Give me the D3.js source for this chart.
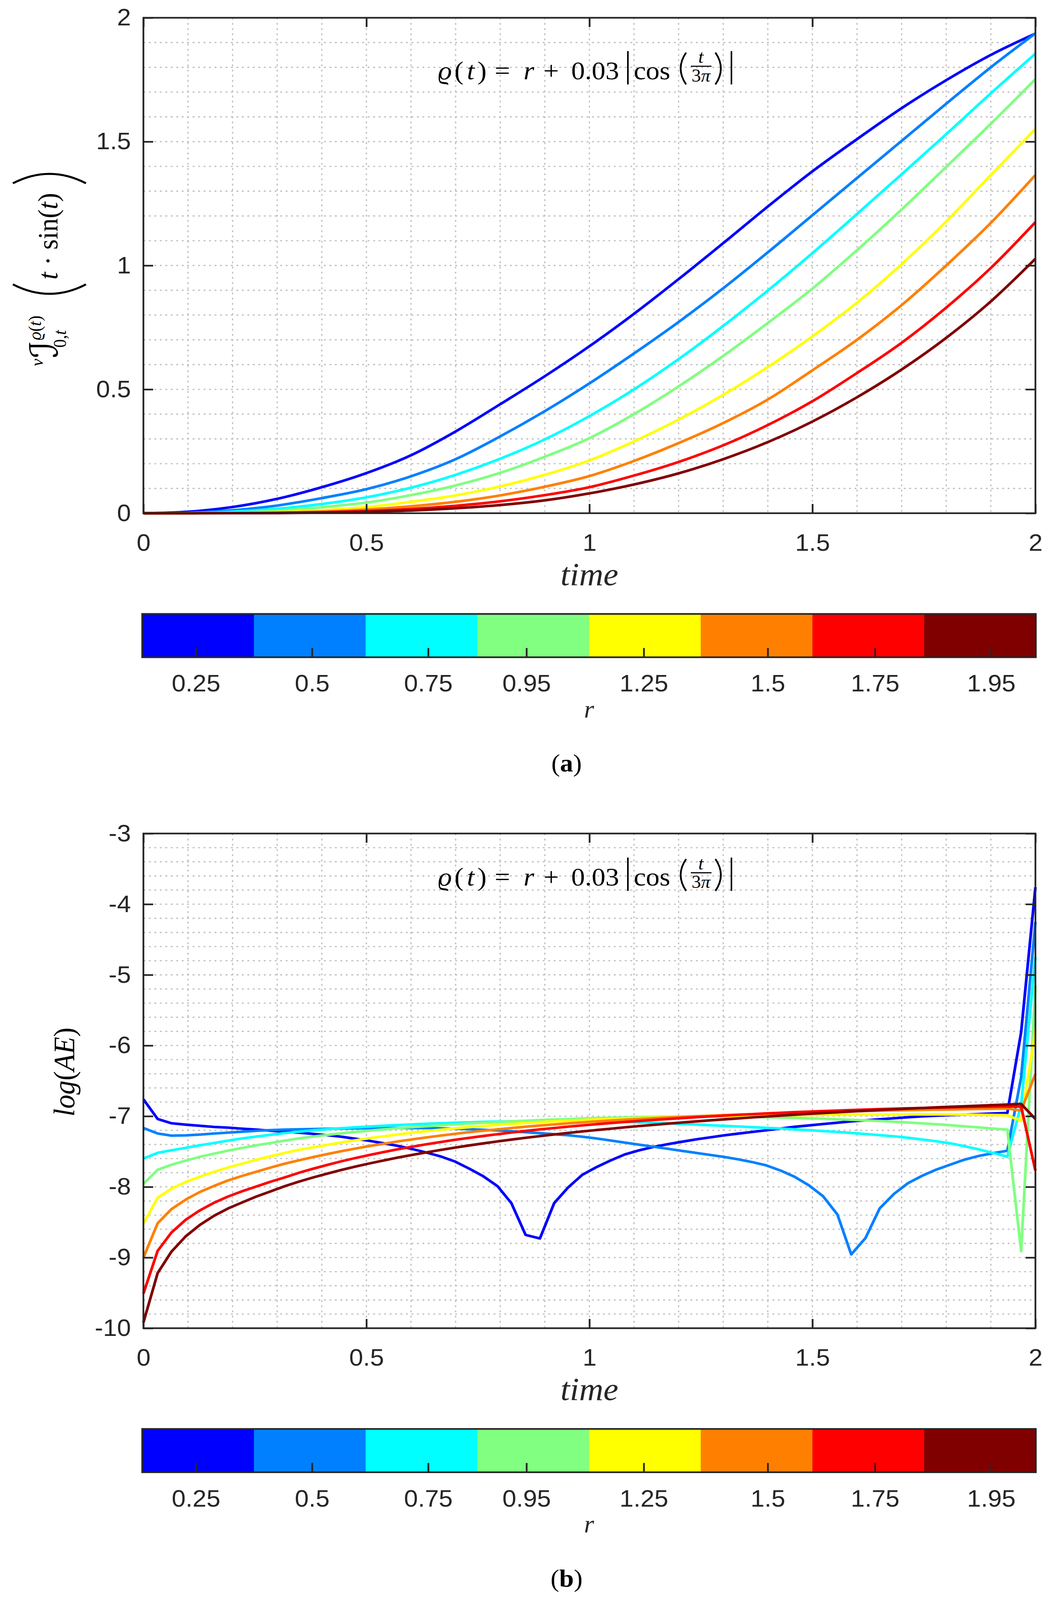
<!DOCTYPE html>
<html>
<head>
<meta charset="utf-8">
<script src="https://cdn.jsdelivr.net/npm/d3@7"></script>
<style>
  html, body { margin: 0; padding: 0; height: 100%; overflow: hidden; background: #fff; }
  #chart { display: block; width: 100vw; height: 100vh; }
</style>
</head>
<body>
<svg id="chart" viewBox="0 0 2695 4321" preserveAspectRatio="none"></svg>
<script>
// colour legend (r values) - jet map, 8 steps
const rLabels = ['0.25', '0.5', '0.75', '0.95', '1.25', '1.5', '1.75', '1.95']
const jetColors = ['#0000ff', '#0080ff', '#00ffff', '#80ff80', '#ffff00', '#ff8000', '#ff0000', '#800000']
// where the colorbar ticks sit, in colour-index units (0..8)
const cbTickPos = [0.48, 1.52, 2.56, 3.44, 4.49, 5.60, 6.56, 7.60]

const xTicks = [0, 0.5, 1, 1.5, 2]
const yTicksA = [0, 0.5, 1, 1.5, 2]
const yTicksB = [-10, -9, -8, -7, -6, -5, -4, -3]

// panel (a): integral of t*sin(t), read at t = 0, 0.1, ..., 2
const timeA = [0, 0.1, 0.2, 0.3, 0.4, 0.5, 0.6, 0.7, 0.8, 0.9, 1, 1.1, 1.2, 1.3, 1.4, 1.5, 1.6, 1.7, 1.8, 1.9, 2]
const intR025 = [0, 0.006, 0.025, 0.058, 0.105, 0.162, 0.234, 0.330, 0.440, 0.553, 0.674, 0.805, 0.945, 1.090, 1.238, 1.380, 1.510, 1.635, 1.748, 1.850, 1.936]
const intR050 = [0, 0.002, 0.012, 0.031, 0.061, 0.097, 0.149, 0.218, 0.310, 0.412, 0.524, 0.645, 0.772, 0.908, 1.053, 1.203, 1.353, 1.503, 1.653, 1.800, 1.937]
const intR075 = [0, 0.001, 0.006, 0.018, 0.037, 0.064, 0.103, 0.155, 0.220, 0.298, 0.392, 0.500, 0.622, 0.756, 0.899, 1.050, 1.208, 1.368, 1.530, 1.695, 1.855]
const intR095 = [0, 0.0004, 0.003, 0.010, 0.024, 0.043, 0.073, 0.112, 0.163, 0.228, 0.303, 0.400, 0.512, 0.635, 0.768, 0.907, 1.062, 1.226, 1.398, 1.572, 1.752]
const intR125 = [0, 0.0001, 0.0013, 0.005, 0.012, 0.025, 0.046, 0.072, 0.108, 0.155, 0.213, 0.290, 0.378, 0.478, 0.590, 0.714, 0.850, 1.005, 1.178, 1.365, 1.551]
const intR150 = [0, 0.00004, 0.0006, 0.0025, 0.007, 0.015, 0.028, 0.046, 0.072, 0.107, 0.150, 0.211, 0.283, 0.364, 0.459, 0.577, 0.700, 0.840, 1.000, 1.172, 1.365]
const intR175 = [0, 0.00002, 0.0003, 0.0012, 0.0037, 0.0088, 0.017, 0.030, 0.048, 0.073, 0.105, 0.152, 0.207, 0.274, 0.356, 0.452, 0.566, 0.688, 0.830, 0.990, 1.175]
const intR195 = [0, 0.00001, 0.0002, 0.0007, 0.0023, 0.0057, 0.011, 0.020, 0.033, 0.052, 0.080, 0.116, 0.161, 0.218, 0.287, 0.370, 0.468, 0.580, 0.708, 0.855, 1.027]

// panel (b): log of absolute error at the 64 grid points
const timeB = [0, 0.032, 0.063, 0.095, 0.127, 0.159, 0.190, 0.222, 0.254, 0.286, 0.317, 0.349, 0.381, 0.413, 0.444, 0.476,
  0.508, 0.540, 0.571, 0.603, 0.635, 0.667, 0.698, 0.730, 0.762, 0.794, 0.825, 0.857, 0.889, 0.921, 0.952, 0.984,
  1.016, 1.048, 1.079, 1.111, 1.143, 1.175, 1.206, 1.238, 1.270, 1.302, 1.333, 1.365, 1.397, 1.429, 1.460, 1.492,
  1.524, 1.556, 1.587, 1.619, 1.651, 1.683, 1.714, 1.746, 1.778, 1.810, 1.841, 1.873, 1.905, 1.937, 1.968, 2.000]
const aeR025 = [-6.76, -7.04, -7.10, -7.12, -7.136, -7.152, -7.162, -7.177, -7.19, -7.206, -7.219, -7.234, -7.25, -7.27, -7.29, -7.32,
  -7.35, -7.385, -7.42, -7.465, -7.515, -7.57, -7.64, -7.74, -7.85, -7.99, -8.23, -8.68, -8.73, -8.23, -8.01, -7.83,
  -7.72, -7.625, -7.542, -7.484, -7.436, -7.397, -7.363, -7.329, -7.30, -7.271, -7.247, -7.223, -7.199, -7.174, -7.15, -7.131,
  -7.111, -7.092, -7.073, -7.058, -7.044, -7.029, -7.015, -7.003, -6.993, -6.985, -6.978, -6.97, -6.962, -6.955, -5.81, -3.76]
const aeR050 = [-7.167, -7.245, -7.275, -7.271, -7.26, -7.245, -7.232, -7.219, -7.206, -7.197, -7.19, -7.186, -7.182, -7.178, -7.175, -7.172,
  -7.17, -7.169, -7.168, -7.168, -7.169, -7.172, -7.177, -7.184, -7.192, -7.202, -7.213, -7.226, -7.24, -7.255, -7.27, -7.29,
  -7.315, -7.344, -7.373, -7.402, -7.431, -7.46, -7.489, -7.518, -7.547, -7.576, -7.61, -7.649, -7.697, -7.77, -7.857, -7.978,
  -8.133, -8.39, -8.956, -8.724, -8.303, -8.099, -7.949, -7.843, -7.755, -7.683, -7.615, -7.562, -7.523, -7.489, -6.45, -4.25]
const aeR075 = [-7.60, -7.519, -7.483, -7.448, -7.411, -7.379, -7.346, -7.314, -7.288, -7.262, -7.238, -7.219, -7.20, -7.184, -7.17, -7.157,
  -7.146, -7.135, -7.125, -7.116, -7.107, -7.10, -7.093, -7.087, -7.081, -7.076, -7.072, -7.068, -7.065, -7.062, -7.061, -7.064,
  -7.068, -7.073, -7.079, -7.086, -7.093, -7.101, -7.109, -7.118, -7.127, -7.136, -7.145, -7.155, -7.165, -7.175, -7.186, -7.198,
  -7.21, -7.223, -7.237, -7.252, -7.268, -7.285, -7.305, -7.33, -7.355, -7.385, -7.425, -7.47, -7.52, -7.574, -6.84, -4.745]
const aeR095 = [-7.959, -7.758, -7.686, -7.628, -7.574, -7.53, -7.487, -7.448, -7.411, -7.379, -7.346, -7.314, -7.288, -7.264, -7.242, -7.222,
  -7.203, -7.186, -7.17, -7.155, -7.141, -7.128, -7.116, -7.104, -7.093, -7.083, -7.073, -7.064, -7.055, -7.047, -7.04, -7.033,
  -7.027, -7.022, -7.017, -7.013, -7.01, -7.008, -7.006, -7.005, -7.005, -7.006, -7.008, -7.011, -7.015, -7.019, -7.024, -7.03,
  -7.036, -7.043, -7.051, -7.059, -7.068, -7.078, -7.089, -7.101, -7.114, -7.128, -7.143, -7.159, -7.175, -7.19, -8.91, -5.15]
const aeR125 = [-8.522, -8.154, -8.024, -7.931, -7.855, -7.786, -7.725, -7.671, -7.615, -7.565, -7.52, -7.475, -7.44, -7.405, -7.372, -7.34,
  -7.31, -7.283, -7.257, -7.233, -7.211, -7.191, -7.172, -7.154, -7.138, -7.123, -7.109, -7.096, -7.084, -7.073, -7.063, -7.054,
  -7.046, -7.039, -7.032, -7.026, -7.02, -7.015, -7.01, -7.006, -7.002, -6.999, -6.996, -6.993, -6.99, -6.988, -6.986, -6.984,
  -6.982, -6.98, -6.979, -6.978, -6.977, -6.976, -6.975, -6.975, -6.975, -6.976, -6.978, -6.98, -6.983, -6.987, -7.066, -5.79]
const aeR150 = [-9.002, -8.515, -8.314, -8.18, -8.071, -7.985, -7.909, -7.844, -7.784, -7.725, -7.672, -7.624, -7.578, -7.535, -7.495, -7.457,
  -7.421, -7.388, -7.357, -7.328, -7.30, -7.274, -7.25, -7.227, -7.206, -7.186, -7.167, -7.149, -7.132, -7.116, -7.101, -7.087,
  -7.074, -7.062, -7.05, -7.039, -7.029, -7.019, -7.01, -7.001, -6.993, -6.985, -6.978, -6.971, -6.964, -6.958, -6.952, -6.946,
  -6.941, -6.936, -6.931, -6.926, -6.922, -6.918, -6.914, -6.91, -6.907, -6.904, -6.901, -6.898, -6.895, -6.892, -6.92, -6.40]
const aeR175 = [-9.511, -8.905, -8.645, -8.465, -8.331, -8.223, -8.136, -8.061, -7.993, -7.925, -7.866, -7.80, -7.742, -7.688, -7.638, -7.591,
  -7.547, -7.506, -7.467, -7.431, -7.397, -7.365, -7.335, -7.307, -7.28, -7.255, -7.231, -7.208, -7.187, -7.167, -7.148, -7.13,
  -7.113, -7.097, -7.082, -7.067, -7.053, -7.04, -7.027, -7.015, -7.003, -6.992, -6.981, -6.971, -6.961, -6.952, -6.943, -6.935,
  -6.927, -6.92, -6.913, -6.906, -6.90, -6.894, -6.889, -6.884, -6.879, -6.875, -6.871, -6.867, -6.864, -6.861, -6.865, -7.77]
const aeR195 = [-9.92, -9.219, -8.916, -8.699, -8.537, -8.407, -8.305, -8.219, -8.135, -8.062, -7.99, -7.925, -7.866, -7.811, -7.76, -7.712,
  -7.667, -7.625, -7.585, -7.547, -7.511, -7.477, -7.445, -7.414, -7.385, -7.357, -7.331, -7.306, -7.282, -7.259, -7.237, -7.216,
  -7.196, -7.177, -7.158, -7.14, -7.123, -7.106, -7.09, -7.074, -7.059, -7.045, -7.031, -7.017, -7.004, -6.991, -6.979, -6.967,
  -6.955, -6.944, -6.933, -6.922, -6.912, -6.902, -6.893, -6.884, -6.875, -6.867, -6.859, -6.851, -6.843, -6.835, -6.826, -7.04]

const sansFont = "'Liberation Sans', Arial, Helvetica, sans-serif"
const serifFont = "'Liberation Serif', 'DejaVu Serif', serif"
const axisColor = '#262626'

var svg = d3.select('#chart')
svg.append('rect').attr('width', 2695).attr('height', 4321).attr('fill', '#fff')

function styleAxis(sel) {
    sel.select('.domain').remove()
    sel.attr('font-size', 64).attr('font-family', sansFont)
    sel.selectAll('line').attr('stroke', axisColor).attr('stroke-width', 4.5)
    sel.selectAll('text').attr('fill', axisColor)
}

function drawPanel(p) {
    var x = d3.scaleLinear().domain([0, 2]).range([p.left, p.right])
    var y = d3.scaleLinear().domain(p.yDomain).range([p.bottom, p.top])
    var g = svg.append('g')

    // dotted grid (major + minor look the same here)
    var grid = g.append('g')
        .attr('stroke', '#c2c2c2')
        .attr('stroke-width', 3.3)
        .attr('stroke-dasharray', '5 9')
    grid.selectAll('line.v')
        .data(d3.range(1, 20).map(i => i / 10))
        .join('line')
        .attr('x1', d => x(d)).attr('x2', d => x(d))
        .attr('y1', p.top).attr('y2', p.bottom)
    grid.selectAll('line.h')
        .data(p.yGrid)
        .join('line')
        .attr('x1', p.left).attr('x2', p.right)
        .attr('y1', d => y(d)).attr('y2', d => y(d))

    // curves
    var line = d3.line()
        .x((d, i) => x(p.time[i]))
        .y(d => y(d))
        .curve(p.curve)
    g.append('g')
        .selectAll('path')
        .data(p.series)
        .join('path')
        .attr('d', line)
        .attr('fill', 'none')
        .attr('stroke', (d, i) => jetColors[i])
        .attr('stroke-width', 7)
        .attr('stroke-linejoin', 'round')

    // axes, ticks point inwards on all four sides
    var fmt = d => String(d)
    g.append('g').attr('transform', `translate(0,${p.bottom})`)
        .call(d3.axisBottom(x).tickValues(xTicks).tickSizeInner(-25).tickSizeOuter(0).tickPadding(56).tickFormat(fmt))
        .call(styleAxis)
    g.append('g').attr('transform', `translate(0,${p.top})`)
        .call(d3.axisTop(x).tickValues(xTicks).tickSizeInner(-25).tickSizeOuter(0).tickFormat(''))
        .call(styleAxis)
    g.append('g').attr('transform', `translate(${p.left},0)`)
        .call(d3.axisLeft(y).tickValues(p.yTicks).tickSizeInner(-25).tickSizeOuter(0).tickPadding(32).tickFormat(fmt))
        .call(styleAxis)
    g.append('g').attr('transform', `translate(${p.right},0)`)
        .call(d3.axisRight(y).tickValues(p.yTicks).tickSizeInner(-25).tickSizeOuter(0).tickFormat(''))
        .call(styleAxis)
    g.append('rect')
        .attr('x', p.left).attr('y', p.top)
        .attr('width', p.right - p.left).attr('height', p.bottom - p.top)
        .attr('fill', 'none').attr('stroke', axisColor).attr('stroke-width', 4.5)

    // x label
    g.append('text')
        .attr('x', (p.left + p.right) / 2).attr('y', p.bottom + 194)
        .attr('text-anchor', 'middle')
        .attr('font-family', serifFont).attr('font-style', 'italic').attr('font-size', 86)
        .attr('fill', axisColor)
        .text('time')
}

function drawColorbar(top) {
    var cb = d3.scaleLinear().domain([0, 8]).range([364, 2651])
    var h = 117
    var g = svg.append('g')
    g.selectAll('rect.c')
        .data(jetColors)
        .join('rect')
        .attr('x', (d, i) => cb(i)).attr('y', top)
        .attr('width', (d, i) => cb(i + 1) - cb(i) + 0.5).attr('height', h)
        .attr('fill', d => d)
    g.append('g').attr('transform', `translate(0,${top + h})`)
        .call(d3.axisBottom(cb).tickValues(cbTickPos).tickSizeInner(-25).tickSizeOuter(0).tickPadding(47)
            .tickFormat((d, i) => rLabels[i]))
        .call(styleAxis)
    g.append('rect')
        .attr('x', cb(0)).attr('y', top).attr('width', cb(8) - cb(0)).attr('height', h)
        .attr('fill', 'none').attr('stroke', axisColor).attr('stroke-width', 4.5)
    g.append('text')
        .attr('x', (cb(0) + cb(8)) / 2).attr('y', top + 280)
        .attr('text-anchor', 'middle')
        .attr('font-family', serifFont).attr('font-style', 'italic').attr('font-size', 66)
        .attr('fill', axisColor)
        .text('r')
}

function drawCaption(y, letter) {
    var t = svg.append('text')
        .attr('x', 1450).attr('y', y)
        .attr('text-anchor', 'middle')
        .attr('font-family', serifFont).attr('font-size', 67).attr('fill', '#000')
    t.append('tspan').text('(')
    t.append('tspan').attr('font-weight', 'bold').text(letter)
    t.append('tspan').text(')')
}

// rho(t) = r + 0.03 |cos(t / 3pi)|, laid out piece by piece like the LaTeX original
function drawRho(dy) {
    var g = svg.append('g').attr('font-family', serifFont).attr('font-size', 70).attr('fill', '#000')
    var base = 214 + dy
    var pieces = [
        { s: 'ϱ', x: 1121, it: true },
        { s: '(', x: 1163 },
        { s: 't', x: 1195, it: true },
        { s: ')', x: 1222 },
        { s: '=', x: 1266 },
        { s: 'r', x: 1340, it: true },
        { s: '+', x: 1391 },
        { s: '0.03', x: 1462 },
        { s: 'cos', x: 1622 }
    ]
    g.selectAll('text.p')
        .data(pieces)
        .join('text')
        .attr('x', d => d.x).attr('y', base)
        .attr('font-style', d => d.it ? 'italic' : null)
        .text(d => d.s)
    // fraction
    g.append('text').attr('x', 1794).attr('y', base - 44).attr('font-size', 48)
        .attr('text-anchor', 'middle').attr('font-style', 'italic').text('t')
    var den = g.append('text').attr('x', 1794).attr('y', base + 6).attr('font-size', 48).attr('text-anchor', 'middle')
    den.append('tspan').text('3')
    den.append('tspan').attr('font-style', 'italic').text('π')
    var st = g.append('g').attr('stroke', '#000').attr('fill', 'none')
    st.append('line').attr('x1', 1768).attr('x2', 1821).attr('y1', base - 35).attr('y2', base - 35).attr('stroke-width', 3)
    // |  |
    st.append('line').attr('x1', 1607).attr('x2', 1607).attr('y1', base - 76).attr('y2', base + 14).attr('stroke-width', 4)
    st.append('line').attr('x1', 1872).attr('x2', 1872).attr('y1', base - 76).attr('y2', base + 14).attr('stroke-width', 4)
    // big ( )
    st.append('path').attr('d', `M1756,${base - 72} Q1728,${base - 29} 1756,${base + 14}`).attr('stroke-width', 4.5)
    st.append('path').attr('d', `M1831,${base - 72} Q1859,${base - 29} 1831,${base + 14}`).attr('stroke-width', 4.5)
}

function drawYLabelA() {
    // rotated frame: local x runs up the page, local y to the right
    var g = svg.append('g')
        .attr('transform', 'translate(147,989) rotate(-90)')
        .attr('font-family', serifFont).attr('fill', '#000')
    g.append('text').attr('x', 0).attr('y', -37).attr('font-size', 46).attr('font-style', 'italic').text('v')
    var cal = g.append('text').attr('x', 22).attr('y', 0).attr('font-size', 98)
        .attr('font-family', "'DejaVu Serif', 'DejaVu Sans', serif").text('ℐ')
    var calEnd = 22 + cal.node().getComputedTextLength()
    var sup = g.append('text').attr('x', calEnd + 2).attr('y', -42).attr('font-size', 46)
    sup.append('tspan').attr('font-style', 'italic').text('ϱ')
    sup.append('tspan').text('(')
    sup.append('tspan').attr('font-style', 'italic').text('t')
    sup.append('tspan').text(')')
    var sub = g.append('text').attr('x', calEnd - 18).attr('y', 22).attr('font-size', 46)
    sub.append('tspan').text('0,')
    sub.append('tspan').attr('font-style', 'italic').text('t')

    // t . sin(t), sized to the span it takes in the original
    var main = g.append('text').attr('x', 234).attr('y', 0).attr('font-size', 70)
    main.append('tspan').attr('font-style', 'italic').text('t')
    main.append('tspan').text(' · sin(')
    main.append('tspan').attr('font-style', 'italic').text('t')
    main.append('tspan').text(')')
    var w = main.node().getComputedTextLength()
    main.attr('font-size', 70 * 234 / w)
    var st = g.append('g').attr('stroke', '#000').attr('fill', 'none').attr('stroke-width', 5.5)
    st.append('path').attr('d', 'M221,-114 Q170,-20 221,73')
    st.append('path').attr('d', 'M494,-114 Q545,-20 494,73')
}

function drawYLabelB() {
    var t = svg.append('text')
        .attr('transform', 'translate(190,2895) rotate(-90)')
        .attr('text-anchor', 'middle')
        .attr('font-family', serifFont).attr('font-size', 76).attr('fill', '#000')
    t.append('tspan').attr('font-style', 'italic').text('log')
    t.append('tspan').text('(')
    t.append('tspan').attr('font-style', 'italic').text('AE')
    t.append('tspan').text(')')
}

drawPanel({
    left: 367, right: 2650, top: 48, bottom: 1386,
    yDomain: [0, 2], yTicks: yTicksA,
    yGrid: d3.range(1, 20).map(i => i / 10),
    time: timeA,
    series: [intR025, intR050, intR075, intR095, intR125, intR150, intR175, intR195],
    curve: d3.curveMonotoneX
})
drawRho(0)
drawYLabelA()
drawColorbar(1658)
drawCaption(2084, 'a')

drawPanel({
    left: 367, right: 2650, top: 2251, bottom: 3587,
    yDomain: [-10, -3], yTicks: yTicksB,
    yGrid: d3.range(1, 35).map(i => -10 + i / 5),
    time: timeB,
    series: [aeR025, aeR050, aeR075, aeR095, aeR125, aeR150, aeR175, aeR195],
    curve: d3.curveLinear
})
drawRho(2178)
drawYLabelB()
drawColorbar(3859)
drawCaption(4285, 'b')
</script>
</body>
</html>
